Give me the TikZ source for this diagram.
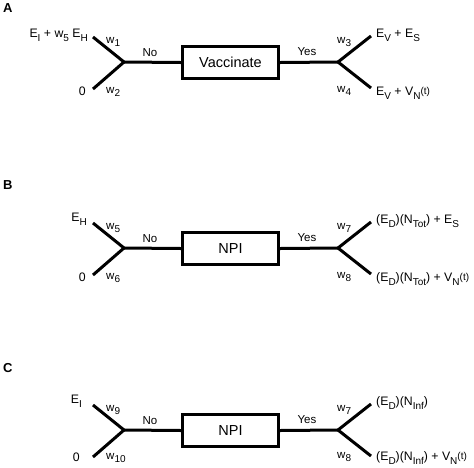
\documentclass[tikz,border=0pt]{standalone}
\usepackage{fontspec}
\setmainfont{Liberation Sans}
\newcommand\lo[1]{\raisebox{-0.34em}{\fontsize{10}{10}\selectfont #1}}
\newcommand\hi[1]{\raisebox{0.05em}{\fontsize{10}{10}\selectfont #1}}
\begin{document}
\begin{tikzpicture}[x=1pt,y=-1pt,
  branch/.style={line width=3pt},
  decbox/.style={draw, line width=3pt, minimum width=96pt, minimum height=32pt, inner sep=0pt, font=\fontsize{14.5}{16}\selectfont},
  lbl/.style={inner sep=0pt, font=\fontsize{11.5}{13}\selectfont},
  txt/.style={inner sep=0pt, font=\fontsize{12.3}{14}\selectfont},
  hdr/.style={inner sep=0pt, anchor=base west, font=\fontsize{13}{15}\selectfont\bfseries}]
\useasboundingbox (0,0) rectangle (474,467);

% ---------- Panel A ----------
\node[hdr] (hA) at (3,12) {A};
\coordinate (aL) at (124,62);
\coordinate (aLu) at (93,37);
\coordinate (aLd) at (93,89);
\coordinate (aR) at (338,62);
\coordinate (aRu) at (371,36);
\coordinate (aRd) at (371,88);
\node[decbox] (boxA) at (230.5,62.5) {Vaccinate};
\draw[branch] (aLu) -- (aL) -- (aLd);
\draw[branch] (aL) -- (boxA.west);
\draw[branch] (boxA.east) -- (aR);
\draw[branch] (aRu) -- (aR) -- (aRd);
\node[txt, anchor=base east] (tA1) at (88,37) {E\lo{I} + w\lo{5} E\lo{H}};
\node[txt, anchor=base east] (tA2) at (86,95) {0};
\node[lbl, anchor=base west] (wA1) at (106,43) {w\lo{1}};
\node[lbl, anchor=base west] (wA2) at (106,93) {w\lo{2}};
\node[lbl, anchor=base] (noA) at (150,56) {No};
\node[lbl, anchor=base] (yesA) at (307,55) {Yes};
\node[lbl, anchor=base west] (wA3) at (337,43) {w\lo{3}};
\node[lbl, anchor=base west] (wA4) at (337,92) {w\lo{4}};
\node[txt, anchor=base west] (tA3) at (376,37) {E\lo{V} + E\lo{S}};
\node[txt, anchor=base west] (tA4) at (376,95) {E\lo{V} + V\lo{N}\hi{(t)}};

% ---------- Panel B ----------
\node[hdr] (hB) at (3,189) {B};
\coordinate (bL) at (124,248);
\coordinate (bLu) at (93,223);
\coordinate (bLd) at (93,275);
\coordinate (bR) at (338,248);
\coordinate (bRu) at (371,222);
\coordinate (bRd) at (371,274);
\node[decbox] (boxB) at (230.5,248.5) {NPI};
\draw[branch] (bLu) -- (bL) -- (bLd);
\draw[branch] (bL) -- (boxB.west);
\draw[branch] (boxB.east) -- (bR);
\draw[branch] (bRu) -- (bR) -- (bRd);
\node[txt, anchor=base east] (tB1) at (87,221) {E\lo{H}};
\node[txt, anchor=base east] (tB2) at (86,281) {0};
\node[lbl, anchor=base west] (wB5) at (106,229) {w\lo{5}};
\node[lbl, anchor=base west] (wB6) at (106,279) {w\lo{6}};
\node[lbl, anchor=base] (noB) at (150,242) {No};
\node[lbl, anchor=base] (yesB) at (307,241) {Yes};
\node[lbl, anchor=base west] (wB7) at (337,229) {w\lo{7}};
\node[lbl, anchor=base west] (wB8) at (337,278) {w\lo{8}};
\node[txt, anchor=base west] (tB3) at (376,223) {(E\lo{D})(N\lo{Tot}) + E\lo{S}};
\node[txt, anchor=base west] (tB4) at (376,281) {(E\lo{D})(N\lo{Tot}) + V\lo{N}\hi{(t)}};

% ---------- Panel C ----------
\node[hdr] (hC) at (3,372) {C};
\coordinate (cL) at (124,430);
\coordinate (cLu) at (93,405);
\coordinate (cLd) at (93,457);
\coordinate (cR) at (338,430);
\coordinate (cRu) at (371,404);
\coordinate (cRd) at (371,456);
\node[decbox] (boxC) at (230.5,430.5) {NPI};
\draw[branch] (cLu) -- (cL) -- (cLd);
\draw[branch] (cL) -- (boxC.west);
\draw[branch] (boxC.east) -- (cR);
\draw[branch] (cRu) -- (cR) -- (cRd);
\node[txt, anchor=base east] (tC1) at (82,403) {E\lo{I}};
\node[txt, anchor=base east] (tC2) at (80,461) {0};
\node[lbl, anchor=base west] (wC9) at (106,411) {w\lo{9}};
\node[lbl, anchor=base west] (wC10) at (106,459) {w\lo{10}};
\node[lbl, anchor=base] (noC) at (150,424) {No};
\node[lbl, anchor=base] (yesC) at (307,423) {Yes};
\node[lbl, anchor=base west] (wC7) at (337,411) {w\lo{7}};
\node[lbl, anchor=base west] (wC8) at (337,458) {w\lo{8}};
\node[txt, anchor=base west] (tC3) at (376,405) {(E\lo{D})(N\lo{Inf})};
\node[txt, anchor=base west] (tC4) at (376,460) {(E\lo{D})(N\lo{Inf}) + V\lo{N}\hi{(t)}};
\end{tikzpicture}
\end{document}
